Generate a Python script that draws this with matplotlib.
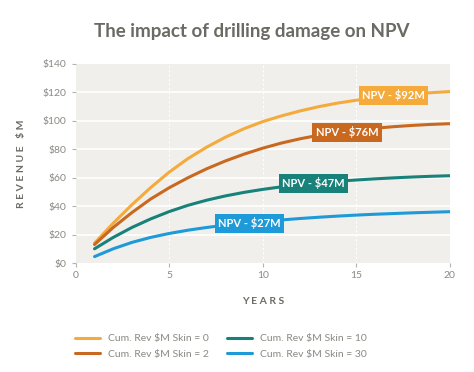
import matplotlib
matplotlib.use('Agg')
import matplotlib.pyplot as plt

plt.rcParams['font.family'] = ['Lato', 'DejaVu Sans']

years = list(range(1, 21))
skin0 = [14, 28, 41, 53, 64, 73.5, 81.5, 88.5, 94.5, 99.5, 103.5, 107, 110, 112.5, 114.5, 116.2, 117.6, 118.8, 119.8, 120.6]
skin2 = [13, 25, 35.5, 45, 53, 60, 66.3, 71.8, 76.6, 80.8, 84.4, 87.4, 89.9, 91.9, 93.5, 94.8, 95.9, 96.8, 97.5, 98.0]
skin10 = [10, 18, 25, 31, 36.2, 40.6, 44.2, 47.2, 49.7, 51.8, 53.6, 55.1, 56.4, 57.5, 58.4, 59.2, 59.9, 60.5, 61.0, 61.4]
skin30 = [4.5, 10, 14.5, 18, 20.8, 23.1, 25, 26.6, 28, 29.2, 30.3, 31.3, 32.2, 33.0, 33.7, 34.3, 34.8, 35.3, 35.7, 36.1]

series = ['Cum. Rev $M Skin = 0', 'Cum. Rev $M Skin = 2', 'Cum. Rev $M Skin = 10', 'Cum. Rev $M Skin = 30']
colors = ['#f5aa3c', '#c8691f', '#18827a', '#1e9ad8']
npv_labels = ['NPV - $92M', 'NPV - $76M', 'NPV - $47M', 'NPV - $27M']
npv_pos = [(17.0, 118), (14.5, 92), (12.7, 56), (9.3, 28)]

gray = '#8a8983'
fig = plt.figure(figsize=(4.74, 3.72), dpi=100)
ax = fig.add_axes([0.160, 0.293, 0.789, 0.535])
ax.set_facecolor('#f0efec')

for vals, name, c in zip([skin0, skin2, skin10, skin30], series, colors):
    ax.plot(years, vals, color=c, lw=2.2, label=name, solid_capstyle='round')

for (x, y), txt, c in zip(npv_pos, npv_labels, colors):
    ax.text(x, y, txt, color='white', fontsize=8, fontweight='bold', ha='center', va='center',
            bbox=dict(boxstyle='square,pad=0.3', fc=c, ec='none'))

ax.set_xlim(0, 20)
ax.set_ylim(0, 140)
ax.set_xticks([0, 5, 10, 15, 20])
ax.set_yticks(range(0, 141, 20))
ax.set_yticklabels(['$%d' % v for v in range(0, 141, 20)])
for v in range(20, 140, 20):
    ax.axhline(v, color='white', lw=1.2, zorder=0.5)
for v in [5, 10, 15]:
    ax.axvline(v, color='white', lw=0.8, ls=(0, (2, 2)), zorder=0.5)
for s in ax.spines.values():
    s.set_visible(False)
ax.tick_params(colors='#b5b4ae', labelcolor=gray, labelsize=7.5, length=3, width=0.8, pad=3)
ax.tick_params(axis='y', pad=4)

ax.set_ylabel('R E V E N U E   $ M', color='#6b6a63', fontsize=7.5, fontweight='bold', labelpad=12)
ax.set_xlabel('Y E A R S', color='#6b6a63', fontsize=7.5, fontweight='bold', labelpad=12)

fig.text(0.532, 0.915, 'The impact of drilling damage on NPV', ha='center', va='center',
         fontsize=13.5, fontweight='bold', color='#6b6a63')

leg = ax.legend(loc='upper left', bbox_to_anchor=(-0.027, -0.31), ncol=2, frameon=False,
                fontsize=7.5, handlelength=2.4, columnspacing=1.7, labelspacing=0.6)
for t in leg.get_texts():
    t.set_color(gray)

fig.savefig('out.png', dpi=100)
